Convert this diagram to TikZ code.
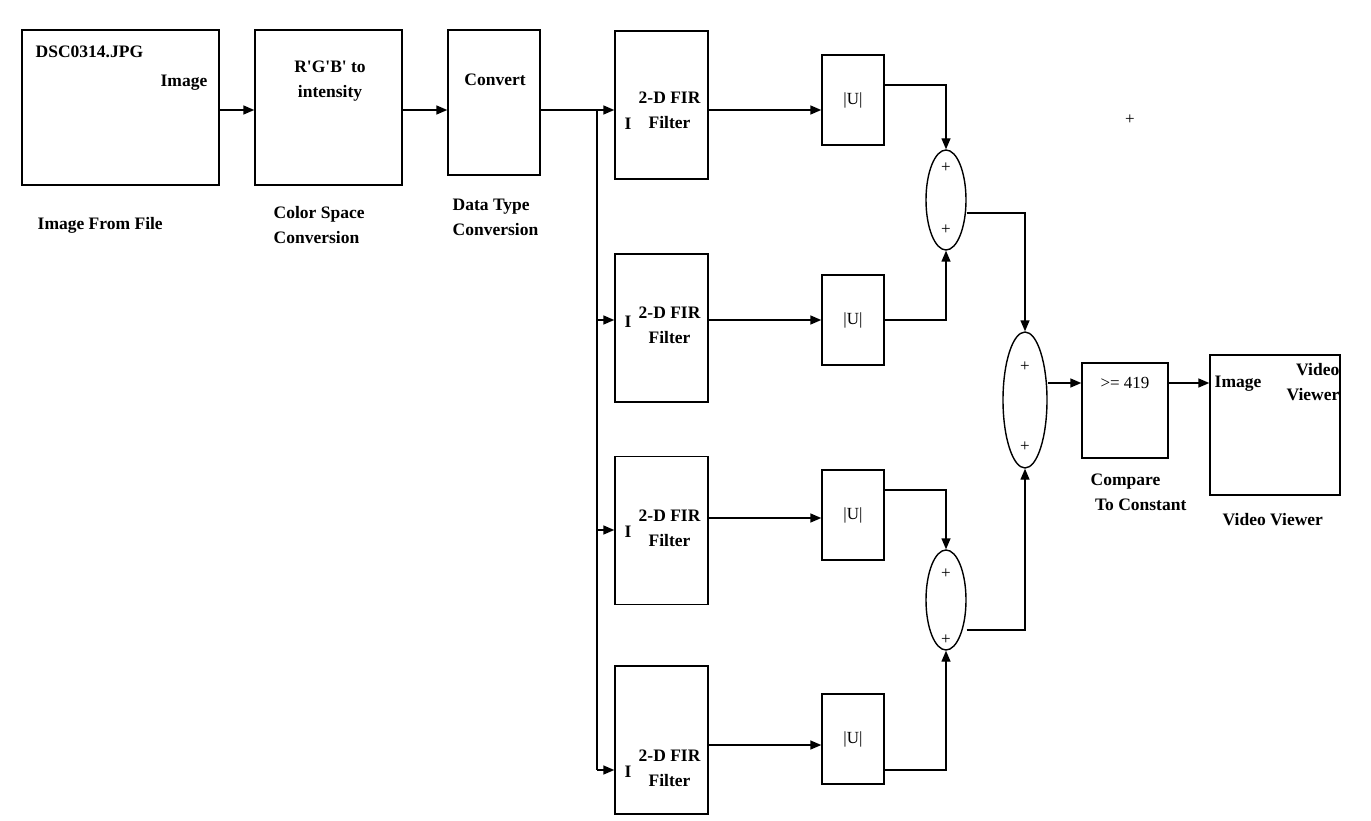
\documentclass[tikz,border=0pt]{standalone}
\usepackage{fontspec}
\setmainfont{Liberation Serif}
\newfontfamily\nomap{Liberation Serif}[Ligatures=TeXOff]
\usetikzlibrary{arrows.meta,shapes.geometric}
\begin{document}
\begin{tikzpicture}[x=1pt,y=-1pt,
  line width=1.4pt,
  blk/.style={draw,inner sep=0},
  lab/.style={font=\fontsize{17.5}{25}\selectfont\bfseries,align=left,inner sep=0},
  txt/.style={font=\fontsize{17.5}{25}\selectfont\bfseries,inner sep=0,align=center},
  ntx/.style={font=\fontsize{17}{20}\selectfont,inner sep=0},
  sum/.style={draw,ellipse,inner sep=0},
  ar/.style={draw,-{Triangle[length=11pt,width=9pt]}},
  ln/.style={draw}]
\useasboundingbox (0,0) rectangle (1371,821);
% boxes
\node[blk,minimum width=197,minimum height=155] (b1) at (120.5,107.5) {};
\node[lab,anchor=west] (t1a) at (35,52) {DSC0314.JPG};
\node[lab,anchor=east] (t1b) at (208,83) {Image};
\node[lab,anchor=west] (l1) at (37,225) {Image From File};
\node[blk,minimum width=147,minimum height=155] (b2) at (328.5,107.5) {};
\node[txt] (t2) at (330,81) {{\nomap R'G'B' to}\\intensity};
\node[lab,anchor=west] (l2) at (273,225) {Color Space\\Conversion};
\node[blk,minimum width=92,minimum height=145] (b3) at (494,102.5) {};
\node[txt] (t3) at (495,80) {Convert};
\node[lab,anchor=west] (l3) at (452,217) {Data Type\\Conversion};
% filters
\foreach \n/\yc in {1/105,2/328,3/530.5,4/740}{
  \node[blk,minimum width=93,minimum height=148] (f\n) at (661.5,\yc) {};
}
\node[txt,anchor=west] (f1t) at (638,110) {2-D FIR\\Filter};
\node[lab] (f1i) at (628,124) {I};
\node[txt,anchor=west] (f2t) at (638,325) {2-D FIR\\Filter};
\node[lab] (f2i) at (628,322) {I};
\node[txt,anchor=west] (f3t) at (638,528) {2-D FIR\\Filter};
\node[lab] (f3i) at (628,532) {I};
\node[txt,anchor=west] (f4t) at (638,768) {2-D FIR\\Filter};
\node[lab] (f4i) at (628,772) {I};
% U boxes
\foreach \n/\yc in {1/100,2/320,3/515,4/739}{
  \node[blk,minimum width=62,minimum height=90] (u\n) at (853,\yc) {};
  \node[ntx] (ut\n) at (853,\yc) {|U|};
}
% sums
\node[sum,minimum width=40,minimum height=100] (s1) at (946,200) {};
\node[sum,minimum width=44,minimum height=136] (s2) at (1025,400) {};
\node[sum,minimum width=40,minimum height=100] (s3) at (946,600) {};
\node[ntx] (p1) at (946,168) {+};
\node[ntx] (p2) at (946,230) {+};
\node[ntx] (p3) at (1025,367) {+};
\node[ntx] (p4) at (1025,447) {+};
\node[ntx] (p5) at (946,574) {+};
\node[ntx] (p6) at (946,640) {+};
\node[ntx] (stray) at (1130,120) {+};
% compare, viewer
\node[blk,minimum width=86,minimum height=95] (c) at (1125,410.5) {};
\node[ntx] (ct) at (1125,383) {>= 419};
\node[lab,anchor=west] (cl) at (1090,492) {Compare\\\ To Constant};
\node[blk,minimum width=130,minimum height=140] (v) at (1275,425) {};
\node[lab,anchor=west] (vi) at (1214,384) {Image};
\node[lab,anchor=east,align=right] (vt) at (1340,382) {Video\\Viewer};
\node[lab,anchor=west] (vl) at (1222,520) {Video Viewer};
% connectors
\coordinate (br0) at (597,110);
\coordinate (br4) at (597,770);
\draw[ar] (b1.east |- 0,110) -- (b2.west |- 0,110);
\draw[ar] (b2.east |- 0,110) -- (b3.west |- 0,110);
\draw[ar] (b3.east |- 0,110) -- (f1.west |- 0,110);
\draw[ln] (br0) -- (br4);
\draw[ar] (597,320) -- (f2.west |- 0,320);
\draw[ar] (597,530) -- (f3.west |- 0,530);
\draw[ar] (br4) -- (f4.west |- 0,770);
\draw[ar] (f1.east |- 0,110) -- (u1.west |- 0,110);
\draw[ar] (f2.east |- 0,320) -- (u2.west |- 0,320);
\draw[ar] (f3.east |- 0,518) -- (u3.west |- 0,518);
\draw[ar] (f4.east |- 0,745) -- (u4.west |- 0,745);
\draw[ar] (u1.east |- 0,85) -| (s1.north);
\draw[ar] (u2.east |- 0,320) -| (s1.south);
\draw[ar] (u3.east |- 0,490) -| (s3.north);
\draw[ar] (u4.east |- 0,770) -| (s3.south);
\draw[ar] (s1.east |- 0,213) -| (s2.north);
\draw[ar] (s3.east |- 0,630) -| (s2.south);
\draw[ar] (s2.east |- 0,383) -- (c.west |- 0,383);
\draw[ar] (c.east |- 0,383) -- (v.west |- 0,383);
\end{tikzpicture}
\end{document}
